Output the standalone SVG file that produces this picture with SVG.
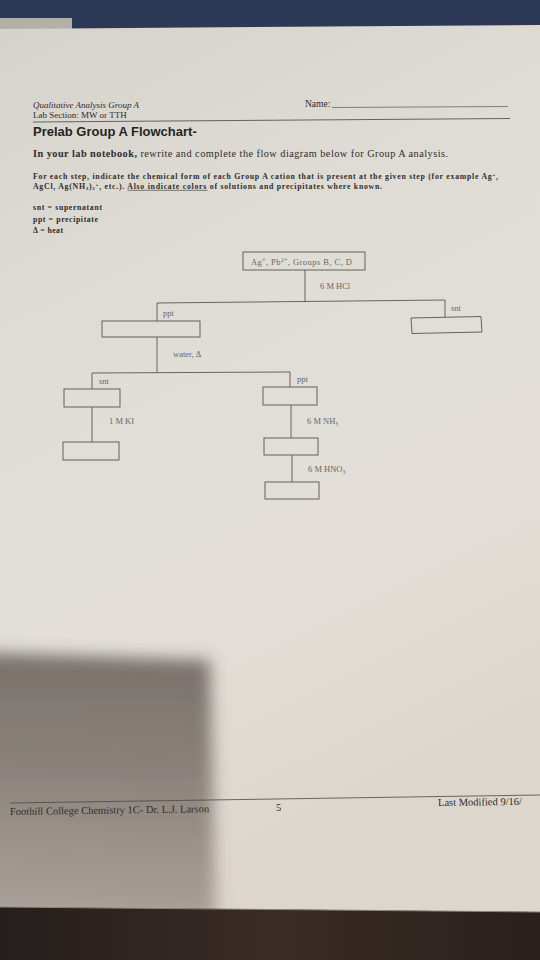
<svg xmlns="http://www.w3.org/2000/svg" width="540" height="960" viewBox="0 0 540 960">
<defs>
<linearGradient id="paper" x1="0" y1="0" x2="0.3" y2="1">
<stop offset="0" stop-color="#d6d3cd"/>
<stop offset="0.35" stop-color="#dfdcd6"/>
<stop offset="0.7" stop-color="#e3dfd8"/>
<stop offset="1" stop-color="#ddd6cc"/>
</linearGradient>
<linearGradient id="top" x1="0" y1="0" x2="0" y2="1">
<stop offset="0" stop-color="#2c3a58"/>
<stop offset="1" stop-color="#1a2640"/>
</linearGradient>
<linearGradient id="floor" x1="0" y1="0" x2="1" y2="0">
<stop offset="0" stop-color="#241e1c"/>
<stop offset="0.5" stop-color="#3a2c26"/>
<stop offset="1" stop-color="#2a201c"/>
</linearGradient>
<linearGradient id="shade" x1="0" y1="0" x2="0" y2="1">
<stop offset="0" stop-color="#4a423c" stop-opacity="0.7"/>
<stop offset="0.45" stop-color="#554c45" stop-opacity="0.62"/>
<stop offset="1" stop-color="#6a6058" stop-opacity="0.45"/>
</linearGradient>
<filter id="blur" x="-20%" y="-20%" width="140%" height="140%"><feGaussianBlur stdDeviation="8"/></filter>
</defs>
<style>
.hd{font-family:"Liberation Serif","Times New Roman",serif;fill:#2e2c2a}
.it{font-style:italic}
.b{font-weight:bold}
.ti{font-family:"Liberation Sans",Arial,sans-serif;font-weight:bold;font-size:13px;fill:#262422}
.lb{font-family:"Liberation Serif","Times New Roman",serif;font-size:8.5px;fill:#6a6661}
.bx{fill:none;stroke:#57534e;stroke-width:0.9}
.cn{fill:none;stroke:#5a5651;stroke-width:0.9}
.ft{font-family:"Liberation Serif","Times New Roman",serif;font-size:10.5px;fill:#2e2c2a}
</style>
<!-- background -->
<rect x="0" y="0" width="540" height="960" fill="url(#top)"/>
<rect x="0" y="18" width="72" height="14" fill="#b3b0a6"/>
<path d="M0 29 L540 25 L540 912 L0 907 Z" fill="url(#paper)"/>
<path d="M-30 652 L210 660 L216 920 L-30 920 Z" fill="url(#shade)" filter="url(#blur)"/>
<path d="M0 907 L540 912 L540 960 L0 960 Z" fill="url(#floor)"/>
<path d="M0 907 L540 912" stroke="#8c847a" stroke-width="1"/>

<!-- header -->
<text class="hd it" x="33" y="108" font-size="9">Qualitative Analysis Group A</text>
<text class="hd" x="33" y="118" font-size="9">Lab Section:  MW or TTH</text>
<text class="hd" x="305" y="107" font-size="9.5">Name:</text>
<line x1="332" y1="107.5" x2="508" y2="106.5" stroke="#555" stroke-width="0.7"/>
<line x1="33" y1="122" x2="510" y2="118.5" stroke="#444" stroke-width="0.8"/>
<text class="ti" x="33" y="136">Prelab Group A Flowchart-</text>
<text class="hd" x="33" y="157" font-size="10.3" textLength="415" lengthAdjust="spacing"><tspan font-weight="bold">In your lab notebook,</tspan> rewrite and complete the flow diagram below for Group A analysis.</text>
<text class="hd b" x="33" y="179" font-size="7.8" textLength="465" lengthAdjust="spacing">For each step, indicate the chemical form of each Group A cation that is present at the given step (for example Ag<tspan font-size="5" dy="-3">+</tspan><tspan dy="3">,</tspan></text>
<text class="hd b" x="33" y="188.5" font-size="7.8" textLength="349" lengthAdjust="spacing">AgCl, Ag(NH<tspan font-size="5" dy="1.5">3</tspan><tspan dy="-1.5">)</tspan><tspan font-size="5" dy="1.5">2</tspan><tspan font-size="5" dy="-4">+</tspan><tspan dy="2.5">, etc.). Also indicate colors of solutions and precipitates where known.</tspan></text>
<line x1="127.5" y1="190.3" x2="207.5" y2="190.3" stroke="#2e2c2a" stroke-width="0.6"/>
<text class="hd b" x="33" y="210" font-size="7.8" textLength="69" lengthAdjust="spacing">snt = supernatant</text>
<text class="hd b" x="33" y="222" font-size="7.8" textLength="65" lengthAdjust="spacing">ppt = precipitate</text>
<text class="hd b" x="33" y="233" font-size="7.8" textLength="30" lengthAdjust="spacing">Δ = heat</text>

<!-- connectors -->
<g id="connectors">
<path class="cn" d="M305 270 V302"/>
<path class="cn" d="M157 303 L445 300"/>
<path class="cn" d="M157 303 V321"/>
<path class="cn" d="M445 300 V317"/>
<path class="cn" d="M157 337 V372.5"/>
<path class="cn" d="M92 373 L290 372"/>
<path class="cn" d="M92 373 V389"/>
<path class="cn" d="M290 372 V387"/>
<path class="cn" d="M92 407 V442"/>
<path class="cn" d="M291 405 V438"/>
<path class="cn" d="M292 455 V482"/>
<text class="lb" x="320" y="289">6 M HCl</text>
<text class="lb" x="163" y="316">ppt</text>
<text class="lb" x="451" y="311">snt</text>
<text class="lb" x="173" y="357">water, Δ</text>
<text class="lb" x="99" y="384">snt</text>
<text class="lb" x="297" y="382">ppt</text>
<text class="lb" x="109" y="424">1 M KI</text>
<text class="lb" x="307" y="424">6 M NH<tspan font-size="5.5" dy="1.5">3</tspan></text>
<text class="lb" x="308" y="472">6 M HNO<tspan font-size="5.5" dy="1.5">3</tspan></text>
</g>

<!-- nodes -->
<g id="n-start">
<rect class="bx" x="243" y="252" width="122" height="18"/>
<text class="lb" x="251" y="265" font-size="9.4" textLength="101" lengthAdjust="spacing">Ag<tspan font-size="5.5" dy="-3">+</tspan><tspan dy="3">, Pb</tspan><tspan font-size="5.5" dy="-3">2+</tspan><tspan dy="3">, Groups B, C, D</tspan></text>
</g>
<g id="n-ppt1"><rect class="bx" x="102" y="321" width="98" height="16"/></g>
<g id="n-snt1"><path class="bx" d="M411 318 L481 316.5 L482 332 L412 333.5 Z"/></g>
<g id="n-snt2"><rect class="bx" x="64" y="389" width="56" height="18"/></g>
<g id="n-ki"><rect class="bx" x="63" y="442" width="56" height="18"/></g>
<g id="n-ppt2"><rect class="bx" x="263" y="387" width="54" height="18"/></g>
<g id="n-nh3"><rect class="bx" x="264" y="438" width="54" height="17"/></g>
<g id="n-hno3"><rect class="bx" x="265" y="482" width="54" height="17"/></g>

<!-- footer -->
<line x1="10" y1="803" x2="540" y2="795" stroke="#4a4744" stroke-width="0.8"/>
<text class="ft" x="10" y="815" transform="rotate(-0.8 10 815)">Foothill College Chemistry 1C- Dr. L.J. Larson</text>
<text class="ft" x="276" y="811">5</text>
<text class="ft" x="438" y="806" transform="rotate(-0.8 438 806)">Last Modified 9/16/</text>
</svg>
